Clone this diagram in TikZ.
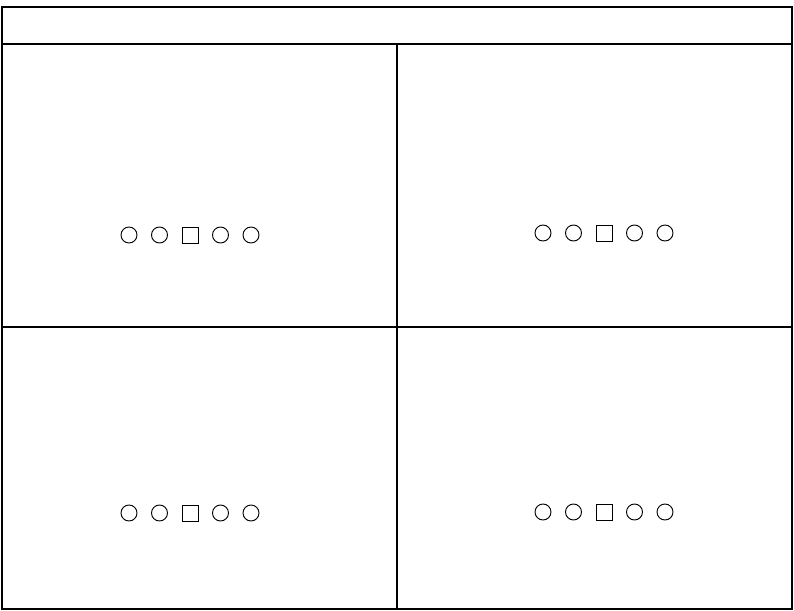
\documentclass[tikz,border=0pt]{standalone}
\usetikzlibrary{shapes}
\pgfmathsetmacro{\markSize}{12}
\pgfmathsetmacro{\markGap}{30.5}
\tikzset{
	frame/.style={draw, line width=1.5pt},
	chair/.style={
		shape=circle, draw,
		minimum size=\markSize pt,
		inner sep=0, line width=0.7pt
	},
	desk/.style={
		shape=rectangle, draw,
		minimum size=\markSize pt,
		inner sep=0, line width=0.7pt
	}
}
\begin{document}
\begin{tikzpicture}[x=0.75pt,y=-0.75pt]
\useasboundingbox (0,0) rectangle (794,611);
% outer frame and panels
\draw[frame] (2,7) rectangle (792,609);
\draw[frame] (2,44) -- (792,44);
\draw[frame] (397,44) -- (397,609);
\draw[frame] (2,327) -- (792,327);

% one row of marks per panel
\foreach \px/\py/\k in {190/235/1, 604/233/2, 190/513/3, 604/512/4}{%
	\node[desk] (p\k-d) at (\px,\py) {};
	\node[chair] (p\k-a) at ({\px-2*\markGap},\py) {};
	\node[chair] (p\k-b) at ({\px-\markGap},\py) {};
	\node[chair] (p\k-c) at ({\px+\markGap},\py) {};
	\node[chair] (p\k-e) at ({\px+2*\markGap},\py) {};
}
\end{tikzpicture}
\end{document}
